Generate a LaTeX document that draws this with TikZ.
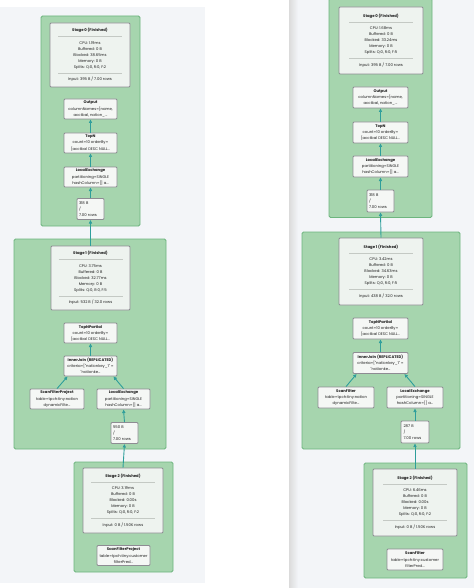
\documentclass[tikz,border=0pt]{standalone}
\usepackage{fontspec}
\setmainfont{Poppins}[Ligatures=TeXOff]
\usetikzlibrary{arrows.meta}
\definecolor{panelbg}{HTML}{F3F5F8}
\definecolor{stagefill}{HTML}{A6D5AE}
\definecolor{stageline}{HTML}{6DB57E}
\definecolor{infofill}{HTML}{EEF3EF}
\definecolor{infoline}{HTML}{8E8C93}
\definecolor{opfill}{HTML}{F5F7F5}
\definecolor{flowteal}{HTML}{2E9E9B}
\definecolor{sepgray}{HTML}{C4C9C4}
\definecolor{planink}{HTML}{1E1E1E}
\newcommand{\stagesep}{\raisebox{1.4pt}{\textcolor{sepgray}{\rule{64pt}{0.4pt}}}}
\tikzset{
  plan text/.style={font=\fontsize{3.8}{6.1}\selectfont, text=planink},
  stagebox/.style={draw=stageline, line width=0.8pt, fill=stagefill, rounded corners=1.5pt},
  infobox/.style={draw=infoline, line width=0.9pt, fill=infofill, rounded corners=1pt,
    align=center, inner sep=0pt},
  opbox/.style={draw=infoline, line width=0.8pt, fill=opfill, rounded corners=1pt,
    minimum width=53, minimum height=20, align=center, inner sep=0pt},
  rowsbox/.style={draw=infoline, line width=0.8pt, fill=opfill, rounded corners=1pt,
    minimum width=27, minimum height=21, text width=23, align=left, inner sep=2pt},
  flow/.style={-{Latex[length=3.6pt,width=3.8pt]}, line width=0.9pt, draw=flowteal}
}

\begin{document}
\begin{tikzpicture}[plan text, x=1pt, y=-1pt]
  \useasboundingbox (0,0) rectangle (474,588);
  % the two panels
  \fill[panelbg] (0,7) rectangle (205,583);
  \fill[panelbg] (289,0) rectangle (474,588);
  \shade[left color=black!14, right color=panelbg] (289,0) rectangle (298,588);

  % left plan
  \node[stagebox, minimum width=99, minimum height=210] (l0) at (90.5,121) {};
  \node[stagebox, minimum width=152, minimum height=210] (l1) at (90,344) {};
  \node[stagebox, minimum width=99, minimum height=110] (l2) at (123.5,517) {};

  \node[infobox, minimum width=80, minimum height=64] (l0info) at (90,55)
    {\textbf{Stage 0 (Finished)}\\\stagesep\\CPU: 1.19ms\\Buffered: 0 B\\Blocked: 38.65ms\\Memory: 0 B\\Splits: Q:0, R:0, F:2\\\stagesep\\Input: 395 B / 7.00 rows};
  \node[opbox] (l0out) at (90.5,109) {\textbf{Output}\\columnNames={[}name,\\acctbal, nation\_...};
  \node[opbox] (l0topn) at (90.5,143) {\textbf{TopN}\\count=10 orderBy=\\{[}acctbal DESC NULL...};
  \node[opbox] (l0lx) at (90.5,177) {\textbf{LocalExchange}\\partitioning=SINGLE\\hashColumn={[]} a...};
  \node[rowsbox] (l0rows) at (90.5,209) {318 B\\/\\7.00 rows};

  \node[infobox, minimum width=79, minimum height=64] (l1info) at (90.5,278)
    {\textbf{Stage 1 (Finished)}\\\stagesep\\CPU: 3.75ms\\Buffered: 0 B\\Blocked: 32.77ms\\Memory: 0 B\\Splits: Q:0, R:0, F:5\\\stagesep\\Input: 532 B / 32.0 rows};
  \node[opbox] (l1topn) at (90.5,333) {\textbf{TopNPartial}\\count=10 orderBy=\\{[}acctbal DESC NULL...};
  \node[opbox] (l1join) at (90.5,366) {\textbf{InnerJoin (REPLICATED)}\\criteria={[}"nationkey\_1" =\\"nationke...};
  \node[opbox, minimum width=54] (l1scan) at (57,399) {\textbf{ScanFilterProject}\\table=tpch:tiny:nation\\dynamicFilte...};
  \node[opbox] (l1lx) at (123.5,399) {\textbf{LocalExchange}\\partitioning=SINGLE\\hashColumn={[]} a...};
  \node[rowsbox] (l1rows) at (124.5,433) {550 B\\/\\7.00 rows};

  \node[infobox, minimum width=80, minimum height=65] (l2info) at (123,500.5)
    {\textbf{Stage 2 (Finished)}\\\stagesep\\CPU: 3.19ms\\Buffered: 0 B\\Blocked: 0.00s\\Memory: 0 B\\Splits: Q:0, R:0, F:2\\\stagesep\\Input: 0 B / 1.50K rows};
  \node[opbox] (l2scan) at (123.5,555.5) {\textbf{ScanFilterProject}\\table=tpch:tiny:customer\\filterPred...};

  \draw[flow] (l0topn.north) -- (l0out.south);
  \draw[flow] (l0lx.north) -- (l0topn.south);
  \draw[flow] (l0rows.north) -- (l0lx.south);
  \draw[flow] (l1info.north) -- (l0rows.south);
  \draw[flow] (l1join.north) -- (l1topn.south);
  \draw[flow] (l1scan.north) -- ([xshift=4pt]l1join.south west);
  \draw[flow] (l1lx.north) -- ([xshift=-4pt]l1join.south east);
  \draw[flow] (l1rows.north) -- (l1lx.south);
  \draw[flow] (l2info.north) -- (l1rows.south);

  % right plan
  \node[stagebox, minimum width=103, minimum height=219] (r0) at (380.5,108) {};
  \node[stagebox, minimum width=158, minimum height=217] (r1) at (381,340.5) {};
  \node[stagebox, minimum width=103, minimum height=115] (r2) at (415.5,520.5) {};

  \node[infobox, minimum width=84, minimum height=67] (r0info) at (381,40.5)
    {\textbf{Stage 0 (Finished)}\\\stagesep\\CPU: 1.68ms\\Buffered: 0 B\\Blocked: 33.24ms\\Memory: 0 B\\Splits: Q:0, R:0, F:5\\\stagesep\\Input: 395 B / 7.00 rows};
  \node[opbox, minimum width=55, minimum height=21] (r0out) at (380.5,97.5) {\textbf{Output}\\columnNames={[}name,\\acctbal, nation\_...};
  \node[opbox, minimum width=55, minimum height=21] (r0topn) at (380.5,132.5) {\textbf{TopN}\\count=10 orderBy=\\{[}acctbal DESC NULL...};
  \node[opbox, minimum width=55, minimum height=21] (r0lx) at (380.5,166.5) {\textbf{LocalExchange}\\partitioning=SINGLE\\hashColumn={[]} a...};
  \node[rowsbox, minimum height=22] (r0rows) at (380.5,201) {318 B\\/\\7.00 rows};

  \node[infobox, minimum width=84, minimum height=67] (r1info) at (381,271.5)
    {\textbf{Stage 1 (Finished)}\\\stagesep\\CPU: 3.42ms\\Buffered: 0 B\\Blocked: 34.63ms\\Memory: 0 B\\Splits: Q:0, R:0, F:5\\\stagesep\\Input: 438 B / 32.0 rows};
  \node[opbox, minimum width=55, minimum height=21] (r1topn) at (380.5,328.5) {\textbf{TopNPartial}\\count=10 orderBy=\\{[}acctbal DESC NULL...};
  \node[opbox, minimum width=55, minimum height=21] (r1join) at (380.5,363) {\textbf{InnerJoin (REPLICATED)}\\criteria={[}"nationkey\_1" =\\"nationke...};
  \node[opbox, minimum width=56, minimum height=21] (r1scan) at (346,397.5) {\textbf{ScanFilter}\\table=tpch:tiny:nation\\dynamicFilte...};
  \node[opbox, minimum width=56, minimum height=21] (r1lx) at (415,397.5) {\textbf{LocalExchange}\\partitioning=SINGLE\\hashColumn={[]} a...};
  \node[rowsbox, minimum width=28, minimum height=22] (r1rows) at (415,432) {287 B\\/\\7.00 rows};

  \node[infobox, minimum width=84, minimum height=67] (r2info) at (415,502.5)
    {\textbf{Stage 2 (Finished)}\\\stagesep\\CPU: 6.46ms\\Buffered: 0 B\\Blocked: 0.00s\\Memory: 0 B\\Splits: Q:0, R:0, F:2\\\stagesep\\Input: 0 B / 1.50K rows};
  \node[opbox, minimum width=56, minimum height=21] (r2scan) at (415,559.5) {\textbf{ScanFilter}\\table=tpch:tiny:customer\\filterPred...};

  \draw[flow] (r0topn.north) -- (r0out.south);
  \draw[flow] (r0lx.north) -- (r0topn.south);
  \draw[flow] (r0rows.north) -- (r0lx.south);
  \draw[flow] (r1info.north) -- (r0rows.south);
  \draw[flow] (r1join.north) -- (r1topn.south);
  \draw[flow] (r1scan.north) -- ([xshift=4pt]r1join.south west);
  \draw[flow] (r1lx.north) -- ([xshift=-4pt]r1join.south east);
  \draw[flow] (r1rows.north) -- (r1lx.south);
  \draw[flow] (r2info.north) -- (r1rows.south);
\end{tikzpicture}
\end{document}
